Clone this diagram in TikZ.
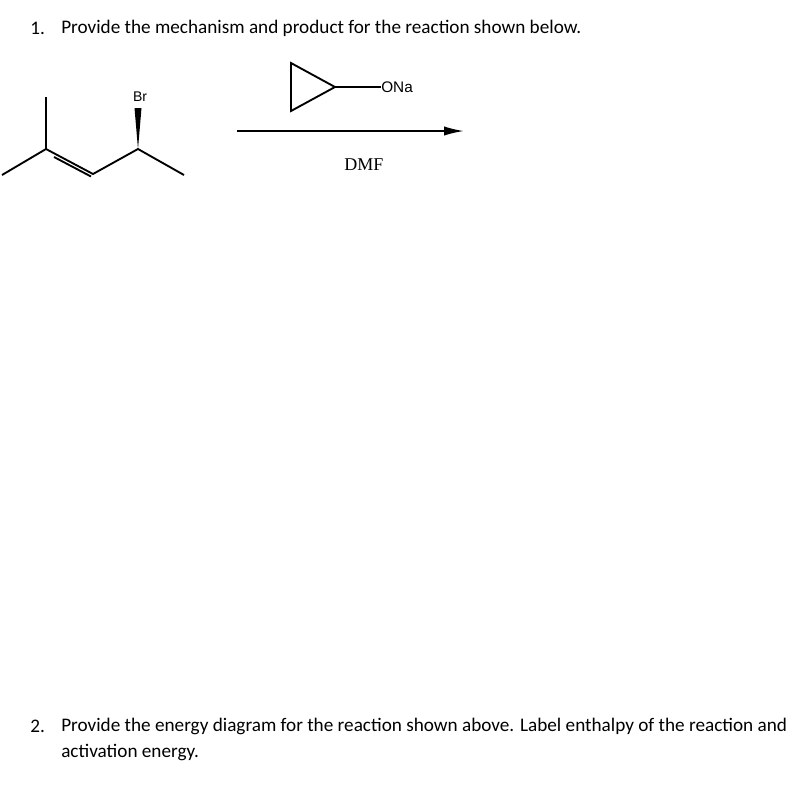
\documentclass[tikz,border=0pt]{standalone}
\usepackage{fontspec}
\usetikzlibrary{arrows.meta}
\setmainfont{Carlito}
\newfontfamily\arialf{Liberation Sans}
\newfontfamily\timesf{Liberation Serif}
\begin{document}
\begin{tikzpicture}[x=0.75pt,y=-0.75pt,bond/.style={line width=1.4pt},
 q/.style={anchor=west,inner sep=0,font=\fontsize{14.4}{17}\selectfont}]
\useasboundingbox (0,0) rectangle (806,794);
\fill[white] (0,0) rectangle (806,794);
\node[q] (n1) at (30,28) {1.};
\node[q] (t1) at (61,28) {Provide the mechanism and product for the reaction shown below.};
\node[q] (n2) at (30,726) {2.};
\node[q] (t2) at (61,726) {Provide the energy diagram for the reaction shown above. Label enthalpy of the reaction and};
\node[q] (t3) at (61,752) {activation energy.};
% molecule
\coordinate (m) at (46,97); \coordinate (c2) at (46,149); \coordinate (c1) at (2,175);
\coordinate (c3) at (93,174); \coordinate (c4) at (138,149); \coordinate (c5) at (184,175);
\draw[bond,line join=miter] (m)--(c2)--(c3)--(c4)--(c5); \draw[bond] (c1)--(c2);
\draw[bond] (54,157)--(91,176.5) ;
\fill (c4)--(134.5,108)--(141.5,108)--cycle;
\node[font=\arialf\fontsize{10.5}{12}\selectfont,inner sep=0] (br) at (140,97) {Br};
% reagent
\coordinate (p1) at (291,63); \coordinate (p2) at (291,111); \coordinate (p3) at (335,87);
\draw[bond,line join=miter] (p1)--(p2)--(p3)--cycle;
\node[font=\arialf\fontsize{11.5}{13}\selectfont,inner sep=0,anchor=west] (ona) at (381,87) {ONa};
\draw[bond] (p3)--(ona.west);
\coordinate (a1) at (237,131); \coordinate (a2) at (464,131);
\draw[bond,-{Latex[length=15pt,width=7pt]}] (a1)--(a2);
\node[font=\timesf\fontsize{13.5}{15}\selectfont,inner sep=0] (dmf) at (364,165) {DMF};
\end{tikzpicture}
\end{document}
